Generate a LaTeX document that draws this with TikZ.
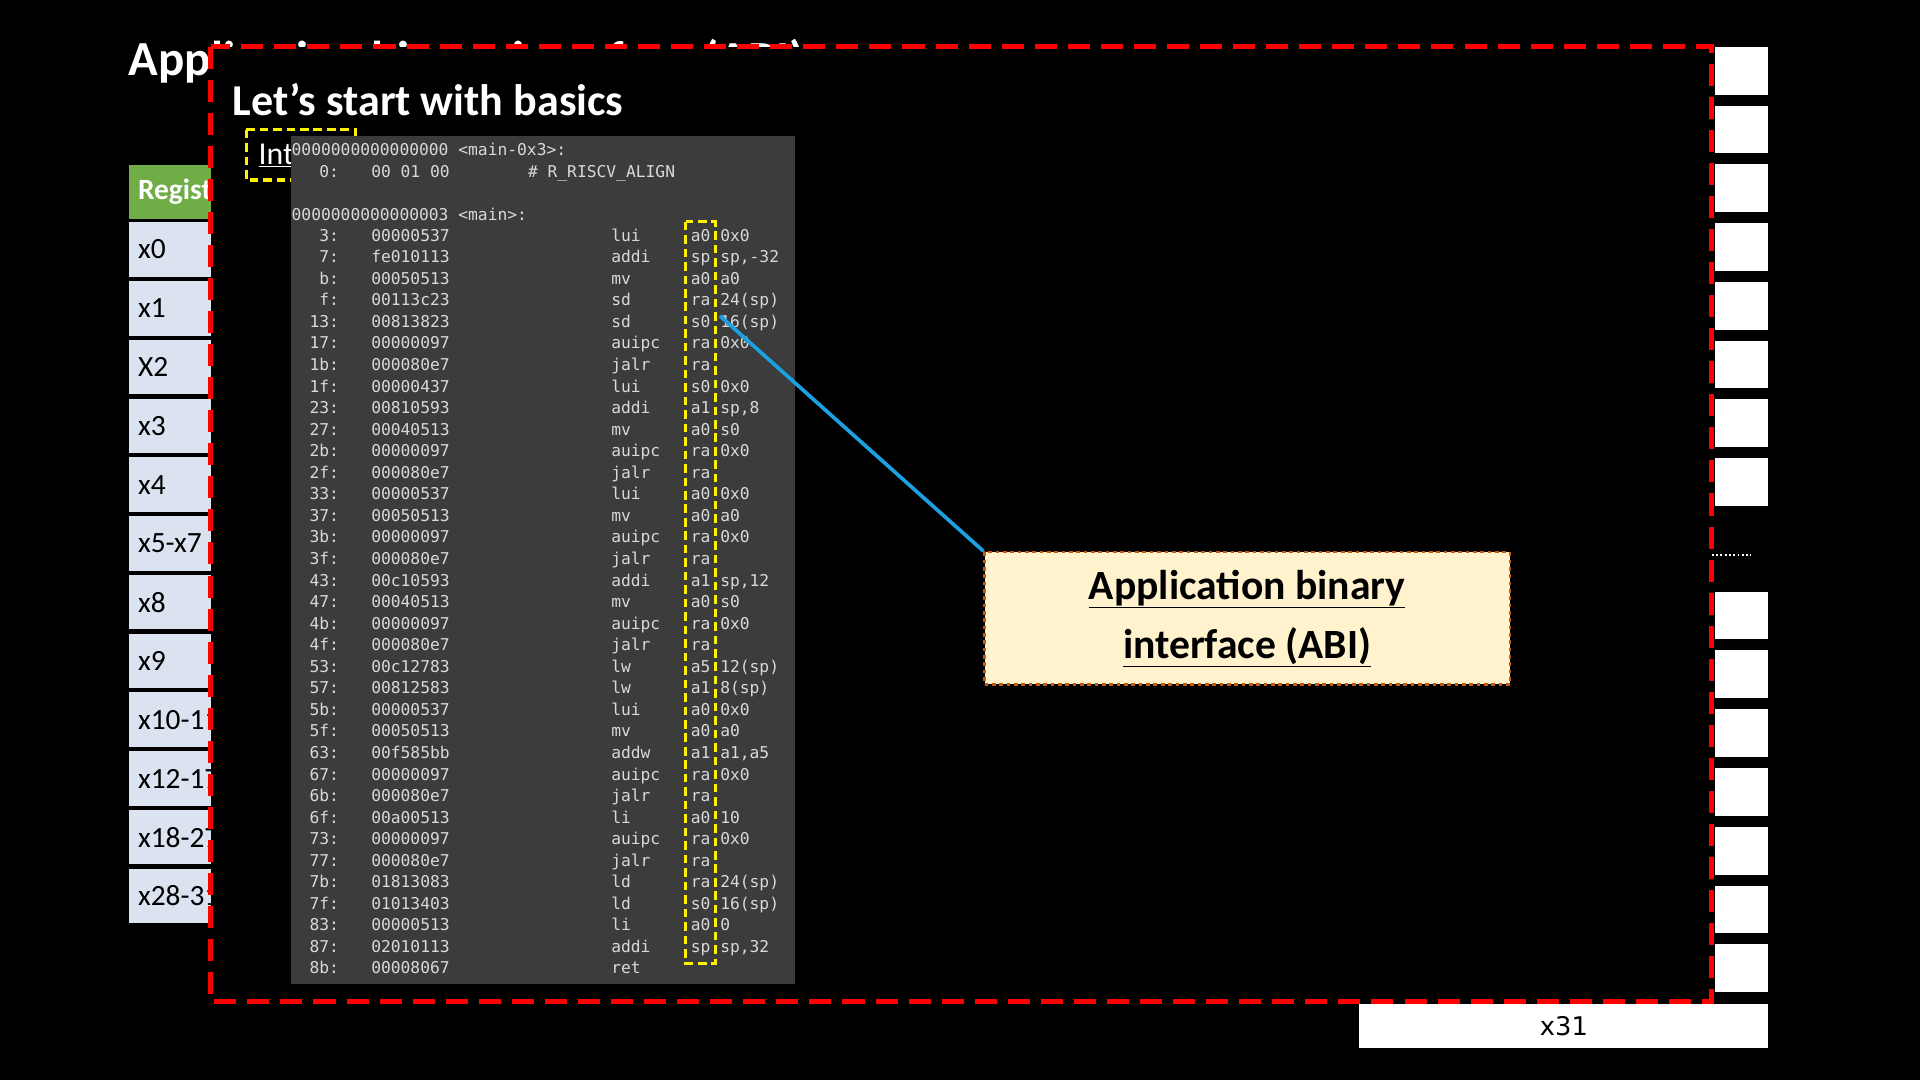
\documentclass[tikz,border=0pt]{standalone}
\usepackage{fontspec}
\setmainfont{Carlito}
\newfontfamily\codefont{DejaVu Sans Mono}
\newfontfamily\dvsans{DejaVu Sans}
\usetikzlibrary{positioning}
\definecolor{regblue}{HTML}{DCE3F0}
\definecolor{reggreen}{HTML}{70AD47}
\definecolor{codegray}{HTML}{3C3C3C}
\definecolor{abifill}{HTML}{FFF2CC}
\definecolor{abiedge}{HTML}{C55A11}
\definecolor{linkblue}{HTML}{1BA1E2}
\tikzset{
  regcell/.style={draw=black,line width=1.5pt,fill=regblue,minimum width=68,minimum height=46,anchor=north west,inner sep=8pt,text=black,font=\fontsize{24}{26}\selectfont},
  slot/.style={fill=white,draw=none,minimum width=44,minimum height=39,anchor=north west,inner sep=0pt},
  code/.style={text=white!85!black,font=\codefont\fontsize{13.3}{16}\selectfont,inner sep=0pt}
}
\begin{document}
\begin{tikzpicture}[x=1pt,y=-1pt]
	\useasboundingbox (0,0) rectangle (1568,882);
	\fill[black] (0,0) rectangle (1568,882);
	% slide behind
	\node[anchor=base west,text=white,font=\bfseries\fontsize{40}{44}\selectfont,inner sep=0pt] (title) at (105,62) {Application binary interface (ABI)};
	\node[regcell,fill=reggreen,text=white,font=\bfseries\fontsize{24}{26}\selectfont,text width=150,align=left] (reghead) at (104,133) {Registers};
	\foreach \r [count=\i from 0] in {x0,x1,X2,x3,x4,x5-x7,x8,x9,x10-11,x12-17,x18-27,x28-31}
		\node[regcell,text width=150,align=left] (reg\i) at (104,180+48*\i) {\r};
	\foreach \i in {0,...,7}
		\node[slot] (slot\i) at (1400,38+48*\i) {};
	\foreach \i in {0,...,6}
		\node[slot] (lslot\i) at (1400,483+48*\i) {};
	\draw[white,dotted,line width=1.5pt] (1398,453) -- (1430,453);
	\node[fill=white,minimum width=334,minimum height=36,anchor=north west,inner sep=0pt,font=\dvsans\fontsize{21}{24}\selectfont] (x31) at (1110,820) {x31};
	% front slide
	\draw[red,dashed,line width=4pt,dash pattern=on 18pt off 9pt,fill=black] (172,38) rectangle (1398,818);
	\node[anchor=base west,text=white,font=\bfseries\fontsize{36}{40}\selectfont,inner sep=0pt] (basics) at (190,94) {Let’s start with basics};
	\draw[yellow,dashed,line width=2.5pt,dash pattern=on 7pt off 4pt] (201,106) rectangle (290,147);
	\node[anchor=base west,text=white,font=\fontsize{26}{28}\selectfont,inner sep=0pt] (intro) at (211,134) {\underline{Introduction}};
	\fill[codegray] (238,111) rectangle (649,804);
	\node[code,anchor=base west] (hdr1) at (238,127) {0000000000000000 <main-0x3>:};
	\node[code,anchor=base east] (hdr2a) at (277,145) {0:};
	\node[code,anchor=base west] (hdr2b) at (303,145) {00 01 00};
	\node[code,anchor=base west] (hdr2c) at (431,145) {\# R\_RISCV\_ALIGN};
	\node[code,anchor=base west] (hdr3) at (238,180) {0000000000000003 <main>:};
	\foreach \ad/\hx/\mn/\rd/\op [count=\i from 0] in {
		3/00000537/lui/a0/0x0, 7/fe010113/addi/sp/{sp,-32}, b/00050513/mv/a0/a0, f/00113c23/sd/ra/24(sp),
		13/00813823/sd/s0/16(sp), 17/00000097/auipc/ra/0x0, 1b/000080e7/jalr/ra/{}, 1f/00000437/lui/s0/0x0,
		23/00810593/addi/a1/{sp,8}, 27/00040513/mv/a0/s0, 2b/00000097/auipc/ra/0x0, 2f/000080e7/jalr/ra/{},
		33/00000537/lui/a0/0x0, 37/00050513/mv/a0/a0, 3b/00000097/auipc/ra/0x0, 3f/000080e7/jalr/ra/{},
		43/00c10593/addi/a1/{sp,12}, 47/00040513/mv/a0/s0, 4b/00000097/auipc/ra/0x0, 4f/000080e7/jalr/ra/{},
		53/00c12783/lw/a5/12(sp), 57/00812583/lw/a1/8(sp), 5b/00000537/lui/a0/0x0, 5f/00050513/mv/a0/a0,
		63/00f585bb/addw/a1/{a1,a5}, 67/00000097/auipc/ra/0x0, 6b/000080e7/jalr/ra/{}, 6f/00a00513/li/a0/10,
		73/00000097/auipc/ra/0x0, 77/000080e7/jalr/ra/{}, 7b/01813083/ld/ra/24(sp), 7f/01013403/ld/s0/16(sp),
		83/00000513/li/a0/0, 87/02010113/addi/sp/{sp,32}, 8b/00008067/ret/{}/{}} {
		\node[code,anchor=base east] (ad\i) at (277,197+17.6*\i) {\ad:};
		\node[code,anchor=base west] (hx\i) at (303,197+17.6*\i) {\hx};
		\node[code,anchor=base west] (mn\i) at (499,197+17.6*\i) {\mn};
		\node[code,anchor=base west] (rd\i) at (564,197+17.6*\i) {\rd};
		\node[code,anchor=base west] (op\i) at (588,197+17.6*\i) {\op};
	}
	\draw[yellow,dashed,line width=2.5pt,dash pattern=on 7pt off 4pt] (560,181) rectangle (584,787);
	% ABI callout
	\node[draw=abiedge,dashed,line width=2pt,fill=abifill,minimum width=429,minimum height=108,anchor=north west,align=center,font=\bfseries\fontsize{34}{48}\selectfont,text=black] (abi) at (803,450) {\underline{Application binary}\\\underline{interface (ABI)}};
	\coordinate (rdmark) at (588,258);
	\draw[linkblue,line width=3pt] (rdmark) -- (abi.north west);
\end{tikzpicture}
\end{document}
